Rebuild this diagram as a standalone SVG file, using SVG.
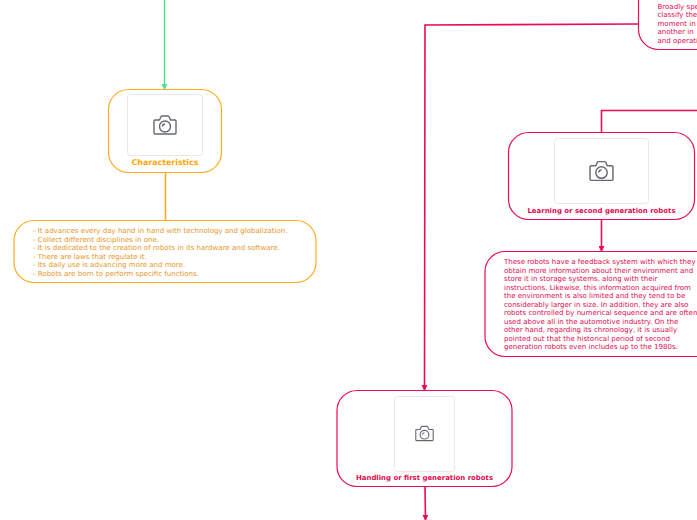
<svg xmlns="http://www.w3.org/2000/svg" width="697" height="520" viewBox="0 0 697 520">
<style>
text{font-family:"DejaVu Sans",Verdana,sans-serif}
.o{fill:#fff;stroke:#ffab1f;stroke-width:1.2}
.p{fill:#fff;stroke:#eb0a55;stroke-width:1.2}
.img{fill:#fff;stroke:#e9e9e9;stroke-width:1}
.to{fill:#e8951f;font-size:7.04px}
.tp{fill:#e0094f;font-size:7.04px}
.lo{fill:#ffa600;font-size:7.9px;font-weight:700;text-anchor:middle}
.lp{fill:#e0094f;font-size:6.95px;font-weight:700;text-anchor:middle}
.cam{fill:none;stroke:#666a70;stroke-width:1.4;stroke-linejoin:round}
.cp{fill:none;stroke:#eb0a55;stroke-width:1.6}
</style>
<defs>
<symbol id="camera" viewBox="0 0 24 20" overflow="visible">
<path class="cam" d="M2 5H6.500L8 1.500Q8.300 1 9 1H15Q15.700 1 16 1.500L17.500 5H22a1 1 0 0 1 1 1V18a1 1 0 0 1-1 1H2a1 1 0 0 1-1-1V6a1 1 0 0 1 1-1Z"/>
<circle class="cam" cx="12" cy="11.500" r="5.500"/>
<path class="cam" d="M9.500 11.500a2.500 2.500 0 0 1 2.500-2.500"/>
</symbol>
<marker id="ag" markerWidth="6" markerHeight="6" refX="5" refY="3" orient="auto" markerUnits="userSpaceOnUse"><path d="M0 0L6 3L0 6Z" fill="#4be38c"/></marker>
<marker id="ap" markerWidth="6" markerHeight="6" refX="5" refY="3" orient="auto" markerUnits="userSpaceOnUse"><path d="M0 0L6 3L0 6Z" fill="#eb0a55"/></marker>
</defs>
<g id="connectors">
<path d="M164.500 0V89" fill="none" stroke="#4be38c" stroke-width="1.4" marker-end="url(#ag)"/>
<path d="M165.500 172V221" fill="none" stroke="#ffab1f" stroke-width="1.6"/>
<path class="cp" d="M638 24L425 25L424.500 390" marker-end="url(#ap)"/>
<path class="cp" d="M697 110.500H601.500V133"/>
<path class="cp" d="M601.500 220V251" marker-end="url(#ap)"/>
<path class="cp" d="M425 487L425.500 520" marker-end="url(#ap)"/>
</g>
<g id="node-characteristics">
<rect class="o" x="108.500" y="89.500" width="113" height="83" rx="20"/>
<rect class="img" x="127.500" y="94.500" width="75" height="61" rx="3"/>
<use href="#camera" x="153" y="115" width="24" height="20"/>
<text class="lo" x="165" y="165">Characteristics</text>
</g>
<g id="node-characteristics-text">
<rect class="o" x="14" y="220.500" width="302" height="62" rx="20"/>
<text class="to" x="33" y="233">- It advances every day hand in hand with technology and globalization.</text>
<text class="to" x="33" y="242">- Collect different disciplines in one.</text>
<text class="to" x="33" y="250">- It is dedicated to the creation of robots in its hardware and software.</text>
<text class="to" x="33" y="259">- There are laws that regulate it.</text>
<text class="to" x="33" y="267">- Its daily use is advancing more and more.</text>
<text class="to" x="33" y="276">- Robots are born to perform specific functions.</text>
</g>
<g id="node-broadly">
<rect class="p" x="638.500" y="-20" width="120" height="69.500" rx="20"/>
<text class="tp" x="657.500" y="9">Broadly spe</text>
<text class="tp" x="657.500" y="17">classify the</text>
<text class="tp" x="657.500" y="26">moment in</text>
<text class="tp" x="657.500" y="34">another in</text>
<text class="tp" x="657.500" y="43">and operati</text>
</g>
<g id="node-learning">
<rect class="p" x="508.500" y="132.500" width="186" height="87" rx="20"/>
<rect class="img" x="554.500" y="138.500" width="94" height="65" rx="3"/>
<use href="#camera" x="589" y="160" width="25" height="22"/>
<text class="lp" x="601.500" y="213">Learning or second generation robots</text>
</g>
<g id="node-learning-text">
<rect class="p" x="485" y="251.500" width="240" height="105" rx="20"/>
<text class="tp" x="504" y="264">These robots have a feedback system with which they</text>
<text class="tp" x="504" y="273">obtain more information about their environment and</text>
<text class="tp" x="504" y="281">store it in storage systems, along with their</text>
<text class="tp" x="504" y="290">instructions. Likewise, this information acquired from</text>
<text class="tp" x="504" y="298">the environment is also limited and they tend to be</text>
<text class="tp" x="504" y="307">considerably larger in size. In addition, they are also</text>
<text class="tp" x="504" y="315">robots controlled by numerical sequence and are often</text>
<text class="tp" x="504" y="324">used above all in the automotive industry. On the</text>
<text class="tp" x="504" y="332">other hand, regarding its chronology, it is usually</text>
<text class="tp" x="504" y="341">pointed out that the historical period of second</text>
<text class="tp" x="504" y="349">generation robots even includes up to the 1980s.</text>
</g>
<g id="node-handling">
<rect class="p" x="337" y="390.500" width="175" height="96" rx="20"/>
<rect class="img" x="394.500" y="396.500" width="60" height="75" rx="3"/>
<use href="#camera" x="415" y="425" width="19" height="17"/>
<text class="lp" x="424.500" y="480">Handling or first generation robots</text>
</g>
</svg>
